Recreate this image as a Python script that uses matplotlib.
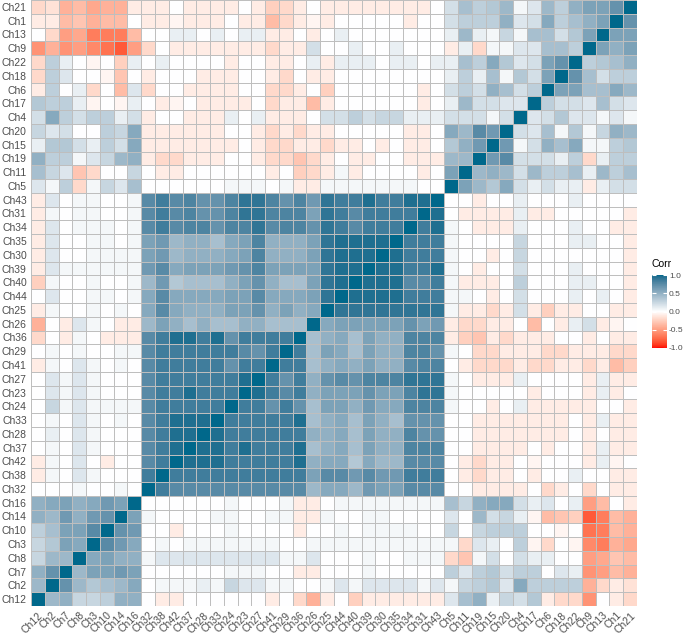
import matplotlib
matplotlib.use('Agg')
import matplotlib.pyplot as plt
import numpy as np
from matplotlib.colors import ListedColormap

plt.rcParams['font.family'] = ['Liberation Sans', 'DejaVu Sans']

# channel order as it appears on the x axis (bottom-left to top-right on y)
channels = ['Ch12', 'Ch2', 'Ch7', 'Ch8', 'Ch3', 'Ch10', 'Ch14', 'Ch16', 'Ch32', 'Ch38', 'Ch42',
            'Ch37', 'Ch28', 'Ch33', 'Ch24', 'Ch23', 'Ch27', 'Ch41', 'Ch29', 'Ch36', 'Ch26', 'Ch25',
            'Ch44', 'Ch40', 'Ch39', 'Ch30', 'Ch35', 'Ch34', 'Ch31', 'Ch43', 'Ch5', 'Ch11', 'Ch19',
            'Ch15', 'Ch20', 'Ch4', 'Ch17', 'Ch6', 'Ch18', 'Ch22', 'Ch9', 'Ch13', 'Ch1', 'Ch21']

# lower triangle of the correlation matrix: row i holds corr with channels[0..i-1]
lower = [
    [],
    [0.45],
    [0.5, 0.7],
    [0.25, 0.45, 0.45],
    [0.25, 0.35, 0.6, 0.55],
    [0.3, 0.4, 0.6, 0.6, 0.75],
    [0.5, 0.45, 0.65, 0.5, 0.65, 0.7],
    [0.5, 0.55, 0.6, 0.5, 0.55, 0.65, 0.6],
    [0, 0, 0, 0.05, 0, 0, 0.05, 0],
    [-0.1, 0.05, 0, 0.15, 0.05, 0, 0, 0, 0.85],
    [-0.1, 0.05, 0, 0.15, 0, -0.1, 0, 0, 0.75, 0.85],
    [0, 0.05, 0, 0.15, 0.05, 0, 0, 0, 0.75, 0.85, 0.95],
    [0, 0.1, 0, 0.15, 0.05, 0, 0, 0, 0.75, 0.85, 0.95, 0.95],
    [0, 0.05, 0, 0.15, 0.05, 0, 0.05, 0, 0.75, 0.85, 0.95, 0.95, 0.95],
    [0, 0.25, 0.05, 0.15, 0.05, 0.05, 0.05, 0.05, 0.75, 0.85, 0.85, 0.85, 0.85, 0.85],
    [0, 0.15, 0.05, 0.15, 0.05, 0, 0, 0, 0.75, 0.85, 0.85, 0.95, 0.85, 0.85, 0.85],
    [0, 0.15, 0.05, 0.15, 0.05, 0, 0, 0, 0.75, 0.85, 0.85, 0.85, 0.85, 0.85, 0.85, 0.95],
    [-0.1, 0.05, 0, 0.15, 0.05, 0, 0.05, 0, 0.75, 0.85, 0.85, 0.85, 0.85, 0.85, 0.7, 0.85, 0.85],
    [0, 0.05, 0, 0.05, 0, 0, 0.05, 0.05, 0.75, 0.85, 0.85, 0.85, 0.85, 0.85, 0.85, 0.75, 0.7, 0.85],
    [-0.2, 0, -0.1, 0.05, 0, -0.1, -0.1, -0.1, 0.75, 0.85, 0.95, 0.95, 0.85, 0.95, 0.7, 0.85, 0.85,
     0.85, 0.85],
    [-0.4, 0, -0.1, 0.15, 0.05, 0, -0.1, -0.1, 0.45, 0.6, 0.5, 0.4, 0.5, 0.4, 0.4, 0.5, 0.5, 0.4, 0.4,
     0.4],
    [-0.1, 0.05, 0, 0, 0.05, 0, 0.05, 0, 0.55, 0.75, 0.55, 0.5, 0.5, 0.5, 0.6, 0.6, 0.7, 0.5, 0.6, 0.5,
     0.55],
    [0, 0.15, 0, 0, 0.05, 0.05, 0, 0.05, 0.55, 0.75, 0.55, 0.55, 0.55, 0.55, 0.6, 0.6, 0.75, 0.55, 0.55,
     0.55, 0.6, 0.9],
    [-0.25, 0.05, 0, 0, 0.05, 0, 0, 0.05, 0.45, 0.65, 0.35, 0.4, 0.4, 0.4, 0.5, 0.6, 0.7, 0.5, 0.4, 0.4,
     0.6, 0.9, 0.95],
    [-0.1, 0.15, 0.05, 0.05, 0.05, 0.05, 0.05, 0.05, 0.65, 0.75, 0.55, 0.6, 0.6, 0.6, 0.65, 0.7, 0.8, 0.6,
     0.6, 0.6, 0.6, 0.9, 0.95, 0.95],
    [-0.1, 0.15, 0, 0, 0.05, 0.05, 0.05, 0.05, 0.6, 0.65, 0.45, 0.5, 0.5, 0.5, 0.55, 0.6, 0.8, 0.5, 0.5,
     0.5, 0.6, 0.9, 0.95, 0.95, 0.95],
    [-0.1, 0.15, 0, 0, 0.05, 0.05, 0, 0.05, 0.6, 0.65, 0.45, 0.5, 0.5, 0.4, 0.55, 0.6, 0.8, 0.5, 0.5, 0.5,
     0.6, 0.9, 0.95, 0.95, 0.95, 0.95],
    [-0.1, 0.15, 0, 0.05, 0.05, 0.05, 0, 0.05, 0.75, 0.85, 0.75, 0.8, 0.8, 0.7, 0.8, 0.8, 0.9, 0.75, 0.8,
     0.8, 0.7, 0.9, 0.85, 0.75, 0.85, 0.85, 0.85],
    [-0.1, 0.05, 0, 0.05, 0.05, 0, 0, 0.05, 0.75, 0.85, 0.75, 0.8, 0.7, 0.7, 0.8, 0.9, 0.9, 0.8, 0.8, 0.8,
     0.6, 0.9, 0.85, 0.75, 0.85, 0.85, 0.85, 0.85],
    [-0.1, 0.15, 0, 0.05, 0.05, 0, 0, 0.05, 0.75, 0.85, 0.75, 0.8, 0.7, 0.7, 0.8, 0.9, 0.9, 0.8, 0.7, 0.8,
     0.65, 0.9, 0.85, 0.85, 0.95, 0.85, 0.85, 0.95, 0.95],
    [0.15, 0.05, 0.3, -0.2, 0.05, 0.25, 0.15, 0.4, 0, 0, 0, 0, 0, 0, 0.05, 0.05, 0.05, 0, 0.05, -0.1,
     -0.1, 0.05, 0.05, 0.05, 0.05, 0.05, 0.05, 0.05, 0, 0],
    [0.4, 0.25, 0.15, -0.3, -0.2, 0, 0, 0.25, 0, -0.1, -0.1, 0, 0, 0, 0, 0, 0, -0.1, 0, -0.25, -0.2,
     -0.1, 0.05, -0.1, 0, 0, 0, 0, -0.1, 0, 0.6],
    [0.5, 0.3, 0.3, 0.05, 0.15, 0.25, 0.45, 0.5, -0.1, -0.2, -0.2, -0.1, -0.1, -0.1, 0, 0, -0.1, -0.2,
     -0.2, -0.3, -0.2, -0.1, 0, -0.1, -0.1, 0, 0, -0.1, -0.1, -0.1, 0.45, 0.45],
    [0.1, 0.35, 0.35, 0.2, 0.1, 0.3, 0.2, 0.55, -0.1, -0.1, -0.1, -0.1, -0.1, -0.1, -0.1, 0, -0.1, -0.2,
     -0.2, -0.1, -0.1, -0.2, -0.1, -0.1, 0, -0.1, 0, -0.1, -0.1, 0, 0.35, 0.5, 0.65],
    [0.25, 0.15, 0.2, 0, 0, 0.3, 0.25, 0.55, -0.1, -0.1, -0.1, -0.1, -0.1, -0.1, 0, 0, -0.1, -0.2, -0.1,
     -0.2, -0.1, -0.1, 0, 0, 0, 0, 0, -0.1, -0.1, 0, 0.55, 0.45, 0.75, 0.65],
    [0.2, 0.55, 0.3, 0.2, 0.3, 0.3, 0.1, 0.2, -0.1, 0, 0, -0.1, -0.1, -0.1, 0.1, 0, 0.1, -0.1, -0.1,
     -0.1, 0, 0.2, 0.2, 0.3, 0.2, 0.25, 0.25, 0.1, 0.1, 0.1, 0.2, 0.2, 0.2, 0.05, 0.2],
    [0.35, 0.3, 0.3, 0.1, -0.05, 0, -0.05, 0.1, 0, -0.1, -0.05, 0, -0.1, -0.1, -0.1, -0.1, 0, -0.2,
     -0.1, -0.1, -0.35, -0.1, 0, 0, 0, 0, 0, 0, -0.1, 0, 0.1, 0.45, 0.2, 0.2, 0.15, 0.15],
    [-0.1, 0.3, 0, 0.1, -0.2, 0, -0.35, 0.15, -0.2, 0, 0, -0.1, -0.1, -0.1, -0.1, 0, 0, -0.2, -0.2,
     -0.1, 0, -0.25, 0, 0, 0, 0, 0, 0, -0.1, 0, 0.2, 0.3, 0.2, 0.5, 0.4, 0.2, 0.3],
    [-0.2, 0.3, 0.15, 0, 0, -0.05, -0.3, 0, -0.1, 0, 0, 0, -0.1, -0.1, -0.1, 0, 0, -0.1, -0.2, 0, -0.1,
     -0.1, 0, 0, 0, 0, 0, 0, 0, 0, 0.1, 0.3, 0.1, 0.4, 0.05, 0.35, 0.2, 0.6],
    [-0.2, 0.3, 0.1, 0, -0.05, 0, -0.25, 0.1, 0, 0.1, 0, 0, 0, 0, -0.1, 0, 0, -0.1, -0.1, 0, 0.1, -0.1,
     0.1, 0.1, 0.1, 0, 0.1, 0.1, 0, 0.1, 0.1, 0.4, 0.3, 0.55, 0.35, 0.15, 0.2, 0.6, 0.7],
    [-0.55, -0.4, -0.55, -0.5, -0.6, -0.7, -0.8, -0.5, -0.2, 0, -0.1, -0.1, -0.1, -0.1, -0.1, -0.1,
     -0.1, -0.2, -0.1, -0.1, 0.2, 0, 0, 0.1, 0, 0, 0.1, 0, 0, 0, -0.1, 0.1, -0.2, 0.05, 0.05, 0.15,
     0.15, 0.4, 0.4, 0.3],
    [0, -0.2, -0.5, -0.45, -0.65, -0.65, -0.65, -0.35, 0, 0, 0.1, 0.1, 0, 0.1, 0, 0.1, 0.1, -0.1, -0.1,
     0, -0.1, 0, 0.1, 0, 0, 0, 0, 0, 0, 0, 0.1, 0.45, 0.1, 0.05, 0.25, 0.05, 0.4, 0.4, 0.2, 0.35, 0.6],
    [-0.1, -0.1, -0.35, -0.3, -0.4, -0.35, -0.35, 0, -0.1, -0.1, -0.05, -0.1, -0.1, -0.1, 0, -0.1, -0.1,
     -0.35, -0.2, -0.1, -0.05, -0.1, 0, 0, 0, 0, 0, -0.1, 0, 0, 0.2, 0.3, 0.3, 0.3, 0.5, 0.15, 0.2, 0.55,
     0.3, 0.4, 0.5, 0.6],
    [-0.2, -0.15, -0.4, -0.35, -0.45, -0.4, -0.4, -0.1, -0.1, -0.1, 0, -0.1, -0.1, -0.1, -0.1, 0, -0.1,
     -0.25, -0.2, -0.1, 0, -0.1, -0.1, -0.1, -0.1, -0.1, -0.1, -0.1, -0.1, 0, 0.2, 0.4, 0.3, 0.35, 0.45,
     0.05, 0.15, 0.45, 0.3, 0.5, 0.6, 0.6, 0.7],
]

n = len(channels)
corr = np.eye(n)
for i, row in enumerate(lower):
    assert len(row) == i, (i, len(row))
    corr[i, :i] = row
    corr[:i, i] = row


# ggplot's gradient2 interpolates in CIE Lab, do the same here
def srgb_to_lab(rgb):
    rgb = np.asarray(rgb, float)
    lin = np.where(rgb <= 0.04045, rgb / 12.92, ((rgb + 0.055) / 1.055) ** 2.4)
    m = np.array([[0.4124, 0.3576, 0.1805], [0.2126, 0.7152, 0.0722], [0.0193, 0.1192, 0.9505]])
    xyz = lin @ m.T / np.array([0.95047, 1.0, 1.08883])
    f = np.where(xyz > 0.008856, np.cbrt(xyz), 7.787 * xyz + 16 / 116)
    return np.stack([116 * f[..., 1] - 16, 500 * (f[..., 0] - f[..., 1]), 200 * (f[..., 1] - f[..., 2])], -1)


def lab_to_srgb(lab):
    fy = (lab[..., 0] + 16) / 116
    fx = fy + lab[..., 1] / 500
    fz = fy - lab[..., 2] / 200
    f = np.stack([fx, fy, fz], -1)
    xyz = np.where(f > 0.2069, f ** 3, (f - 16 / 116) / 7.787) * np.array([0.95047, 1.0, 1.08883])
    m = np.linalg.inv(np.array([[0.4124, 0.3576, 0.1805], [0.2126, 0.7152, 0.0722], [0.0193, 0.1192, 0.9505]]))
    lin = np.clip(xyz @ m.T, 0, 1)
    return np.where(lin <= 0.0031308, 12.92 * lin, 1.055 * lin ** (1 / 2.4) - 0.055).clip(0, 1)


low, mid, high = [1, 0, 0], [1, 1, 1], [0, 104 / 255, 139 / 255]
lab_low, lab_mid, lab_high = srgb_to_lab(low), srgb_to_lab(mid), srgb_to_lab(high)
t = np.linspace(-1, 1, 256)[:, None]
lab = np.where(t < 0, lab_mid + (lab_low - lab_mid) * (-t), lab_mid + (lab_high - lab_mid) * t)
cmap = ListedColormap(lab_to_srgb(lab))

fig = plt.figure(figsize=(6.85, 6.35), dpi=100)
ax = fig.add_axes([31 / 685, 1 - 606 / 635, 606 / 685, 606 / 635])
mesh = ax.pcolormesh(np.arange(n + 1), np.arange(n + 1), corr, cmap=cmap, vmin=-1, vmax=1,
                     edgecolors='#BEBEBE', linewidth=0.5)
ax.set_xlim(0, n)
ax.set_ylim(0, n)
ax.set_xticks(np.arange(n) + 0.5)
ax.set_yticks(np.arange(n) + 0.5)
ax.set_xticklabels(channels, rotation=45, ha='right', va='top', rotation_mode='anchor',
                   fontsize=7.5, color='#4D4D4D')
ax.set_yticklabels(channels, fontsize=7.5, color='#4D4D4D')
ax.tick_params(length=0, pad=3)
for s in ax.spines.values():
    s.set_visible(False)

cax = fig.add_axes([652 / 685, 1 - 348 / 635, 15 / 685, 73 / 635])
cbar = fig.colorbar(mesh, cax=cax, ticks=[-1, -0.5, 0, 0.5, 1])
cbar.outline.set_visible(False)
cbar.ax.set_yticklabels(['-1.0', '-0.5', '0.0', '0.5', '1.0'], fontsize=6, color='#4D4D4D')
cbar.ax.tick_params(color='white', direction='in', length=3, width=0.8, left=True, right=True,
                    labelleft=False, labelright=True, pad=1.5)
fig.text(652 / 685, 1 - 264 / 635, 'Corr', fontsize=7.5, color='black', va='center', ha='left')

fig.savefig('out.png', dpi=100)
